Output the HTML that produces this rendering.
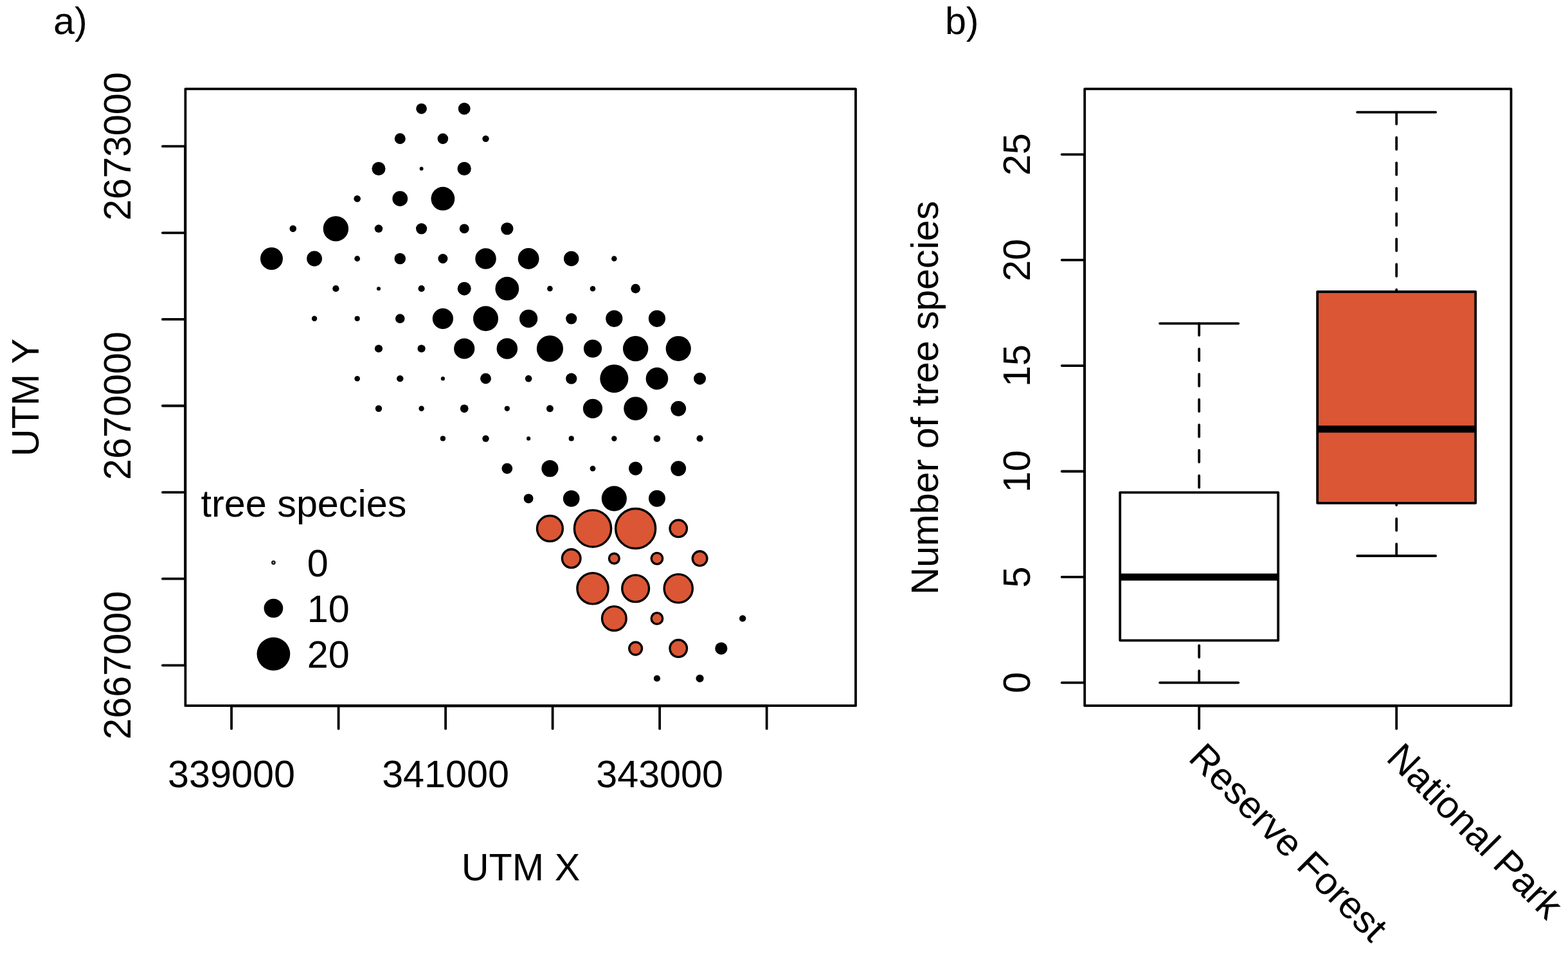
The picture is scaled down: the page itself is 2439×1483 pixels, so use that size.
<!DOCTYPE html>
<html><head><meta charset="utf-8"><title>Tree species</title>
<style>
html,body{margin:0;padding:0;background:#fff;}
body{width:2439px;height:1483px;overflow:hidden;}
svg{display:block;}
text{font-kerning:normal;}
</style></head>
<body>
<svg width="2439" height="1483" viewBox="0 0 2439 1483">
<rect x="0" y="0" width="2439" height="1483" fill="#ffffff"/>
<g fill="#000">
<circle cx="655.59" cy="169.20" r="8.30"/>
<circle cx="722.19" cy="169.20" r="9.40"/>
<circle cx="622.28" cy="215.86" r="8.50"/>
<circle cx="688.89" cy="215.86" r="8.30"/>
<circle cx="755.50" cy="215.86" r="5.20"/>
<circle cx="588.98" cy="262.52" r="10.50"/>
<circle cx="655.59" cy="262.52" r="2.90"/>
<circle cx="722.19" cy="262.52" r="10.60"/>
<circle cx="555.67" cy="309.18" r="5.30"/>
<circle cx="622.28" cy="309.18" r="11.85"/>
<circle cx="688.89" cy="309.18" r="18.40"/>
<circle cx="455.75" cy="355.84" r="5.30"/>
<circle cx="522.37" cy="355.84" r="19.70"/>
<circle cx="588.98" cy="355.84" r="6.25"/>
<circle cx="655.59" cy="355.84" r="8.60"/>
<circle cx="722.19" cy="355.84" r="7.40"/>
<circle cx="788.81" cy="355.84" r="9.70"/>
<circle cx="422.45" cy="402.50" r="17.50"/>
<circle cx="489.06" cy="402.50" r="11.90"/>
<circle cx="555.67" cy="402.50" r="4.40"/>
<circle cx="622.28" cy="402.50" r="8.75"/>
<circle cx="688.89" cy="402.50" r="7.50"/>
<circle cx="755.50" cy="402.50" r="16.25"/>
<circle cx="822.11" cy="402.50" r="16.40"/>
<circle cx="888.72" cy="402.50" r="11.75"/>
<circle cx="955.33" cy="402.50" r="4.25"/>
<circle cx="522.37" cy="449.16" r="5.10"/>
<circle cx="588.98" cy="449.16" r="3.00"/>
<circle cx="655.59" cy="449.16" r="5.10"/>
<circle cx="722.19" cy="449.16" r="10.50"/>
<circle cx="788.81" cy="449.16" r="18.40"/>
<circle cx="855.41" cy="449.16" r="4.30"/>
<circle cx="922.02" cy="449.16" r="4.25"/>
<circle cx="988.63" cy="449.16" r="7.30"/>
<circle cx="489.06" cy="495.82" r="4.20"/>
<circle cx="555.67" cy="495.82" r="4.10"/>
<circle cx="622.28" cy="495.82" r="7.30"/>
<circle cx="688.89" cy="495.82" r="16.10"/>
<circle cx="755.50" cy="495.82" r="19.50"/>
<circle cx="822.11" cy="495.82" r="14.10"/>
<circle cx="888.72" cy="495.82" r="8.60"/>
<circle cx="955.33" cy="495.82" r="13.10"/>
<circle cx="1021.94" cy="495.82" r="13.10"/>
<circle cx="588.98" cy="542.48" r="6.10"/>
<circle cx="655.59" cy="542.48" r="6.10"/>
<circle cx="722.19" cy="542.48" r="16.10"/>
<circle cx="788.81" cy="542.48" r="16.25"/>
<circle cx="855.41" cy="542.48" r="20.60"/>
<circle cx="922.02" cy="542.48" r="14.10"/>
<circle cx="988.63" cy="542.48" r="19.70"/>
<circle cx="1055.24" cy="542.48" r="19.60"/>
<circle cx="555.67" cy="589.14" r="4.25"/>
<circle cx="622.28" cy="589.14" r="5.20"/>
<circle cx="688.89" cy="589.14" r="3.10"/>
<circle cx="755.50" cy="589.14" r="8.40"/>
<circle cx="822.11" cy="589.14" r="5.30"/>
<circle cx="888.72" cy="589.14" r="8.60"/>
<circle cx="955.33" cy="589.14" r="22.00"/>
<circle cx="1021.94" cy="589.14" r="17.30"/>
<circle cx="1088.55" cy="589.14" r="9.50"/>
<circle cx="588.98" cy="635.80" r="5.20"/>
<circle cx="655.59" cy="635.80" r="4.20"/>
<circle cx="722.19" cy="635.80" r="6.40"/>
<circle cx="788.81" cy="635.80" r="4.10"/>
<circle cx="855.41" cy="635.80" r="5.50"/>
<circle cx="922.02" cy="635.80" r="15.10"/>
<circle cx="988.63" cy="635.80" r="18.40"/>
<circle cx="1055.24" cy="635.80" r="11.90"/>
<circle cx="688.89" cy="682.46" r="4.10"/>
<circle cx="755.50" cy="682.46" r="5.20"/>
<circle cx="822.11" cy="682.46" r="3.10"/>
<circle cx="888.72" cy="682.46" r="4.10"/>
<circle cx="955.33" cy="682.46" r="4.20"/>
<circle cx="1021.94" cy="682.46" r="5.25"/>
<circle cx="1088.55" cy="682.46" r="5.10"/>
<circle cx="788.81" cy="729.12" r="8.40"/>
<circle cx="855.41" cy="729.12" r="13.10"/>
<circle cx="922.02" cy="729.12" r="4.40"/>
<circle cx="988.63" cy="729.12" r="10.60"/>
<circle cx="1055.24" cy="729.12" r="11.90"/>
<circle cx="822.11" cy="775.78" r="7.40"/>
<circle cx="888.72" cy="775.78" r="12.90"/>
<circle cx="955.33" cy="775.78" r="19.60"/>
<circle cx="1021.94" cy="775.78" r="13.00"/>
<circle cx="1155.16" cy="962.42" r="5.20"/>
<circle cx="1121.86" cy="1009.08" r="9.60"/>
<circle cx="1021.94" cy="1055.74" r="5.10"/>
<circle cx="1088.55" cy="1055.74" r="6.10"/>
</g>
<g fill="#DB5634" stroke="#000" stroke-width="3.4">
<circle cx="855.41" cy="822.44" r="19.95"/>
<circle cx="922.02" cy="822.44" r="28.60"/>
<circle cx="988.63" cy="822.44" r="31.00"/>
<circle cx="1055.24" cy="822.44" r="13.20"/>
<circle cx="888.72" cy="869.10" r="14.30"/>
<circle cx="955.33" cy="869.10" r="7.90"/>
<circle cx="1021.94" cy="869.10" r="8.75"/>
<circle cx="1088.55" cy="869.10" r="11.30"/>
<circle cx="922.02" cy="915.76" r="24.10"/>
<circle cx="988.63" cy="915.76" r="20.90"/>
<circle cx="1055.24" cy="915.76" r="22.10"/>
<circle cx="955.33" cy="962.42" r="18.80"/>
<circle cx="1021.94" cy="962.42" r="8.75"/>
<circle cx="988.63" cy="1009.08" r="9.90"/>
<circle cx="1055.24" cy="1009.08" r="13.30"/>
</g>
<g stroke="#000" fill="none" stroke-linecap="round" stroke-linejoin="round">
<rect x="288.4" y="138.4" width="1042.60" height="959.80" stroke-width="3.8"/>
<line x1="360.05" y1="1098.70" x2="1192.65" y2="1098.70" stroke-width="3.8" />
<line x1="360.05" y1="1098.70" x2="360.05" y2="1133.90" stroke-width="3.8" />
<line x1="526.57" y1="1098.70" x2="526.57" y2="1133.90" stroke-width="3.8" />
<line x1="693.09" y1="1098.70" x2="693.09" y2="1133.90" stroke-width="3.8" />
<line x1="859.61" y1="1098.70" x2="859.61" y2="1133.90" stroke-width="3.8" />
<line x1="1026.13" y1="1098.70" x2="1026.13" y2="1133.90" stroke-width="3.8" />
<line x1="1192.65" y1="1098.70" x2="1192.65" y2="1133.90" stroke-width="3.8" />
<line x1="288.10" y1="227.70" x2="288.10" y2="1035.30" stroke-width="3.8" />
<line x1="288.10" y1="227.70" x2="252.90" y2="227.70" stroke-width="3.8" />
<line x1="288.10" y1="362.30" x2="252.90" y2="362.30" stroke-width="3.8" />
<line x1="288.10" y1="496.90" x2="252.90" y2="496.90" stroke-width="3.8" />
<line x1="288.10" y1="631.50" x2="252.90" y2="631.50" stroke-width="3.8" />
<line x1="288.10" y1="766.10" x2="252.90" y2="766.10" stroke-width="3.8" />
<line x1="288.10" y1="900.70" x2="252.90" y2="900.70" stroke-width="3.8" />
<line x1="288.10" y1="1035.30" x2="252.90" y2="1035.30" stroke-width="3.8" />
</g>
<g font-family="'Liberation Sans', Arial, Helvetica, sans-serif" font-size="59.3" fill="#000">
<text x="83.00" y="53.20" text-anchor="start">a)</text>
<text x="360.05" y="1225.30" text-anchor="middle">339000</text>
<text x="693.09" y="1225.30" text-anchor="middle">341000</text>
<text x="1026.13" y="1225.30" text-anchor="middle">343000</text>
<text x="203.00" y="227.70" text-anchor="middle" transform="rotate(-90 203.00 227.70)">2673000</text>
<text x="203.00" y="631.50" text-anchor="middle" transform="rotate(-90 203.00 631.50)">2670000</text>
<text x="203.00" y="1035.30" text-anchor="middle" transform="rotate(-90 203.00 1035.30)">2667000</text>
<text x="810.00" y="1369.50" text-anchor="middle">UTM X</text>
<text x="59.60" y="618.50" text-anchor="middle" transform="rotate(-90 59.60 618.50)">UTM Y</text>
<text x="312.60" y="804.20" text-anchor="start">tree species</text>
<text x="477.70" y="897.00" text-anchor="start">0</text>
<text x="477.70" y="968.20" text-anchor="start">10</text>
<text x="477.70" y="1039.30" text-anchor="start">20</text>
</g>
<circle cx="425.4" cy="875.4" r="2.4" fill="#888" stroke="#000" stroke-width="1.7"/>
<circle cx="425.4" cy="946.5" r="14.85" fill="#000"/>
<circle cx="425.4" cy="1017.6" r="25.9" fill="#000"/>
<g stroke="#000" stroke-linecap="round" stroke-linejoin="round">
<line x1="1865.20" y1="1062.30" x2="1865.20" y2="996.54" stroke-width="3.8" stroke-dasharray="18.5 20.95" fill="none"/>
<line x1="1865.20" y1="503.34" x2="1865.20" y2="766.38" stroke-width="3.8" stroke-dasharray="18.5 20.95" fill="none"/>
<line x1="1804.20" y1="1062.30" x2="1926.20" y2="1062.30" stroke-width="3.8" />
<line x1="1804.20" y1="503.34" x2="1926.20" y2="503.34" stroke-width="3.8" />
<rect x="1742.20" y="766.38" width="246.00" height="230.16" fill="#ffffff" stroke-width="3.8"/>
<line x1="1742.20" y1="897.90" x2="1988.20" y2="897.90" stroke-width="11" stroke-linecap="butt"/>
<line x1="2172.20" y1="865.02" x2="2172.20" y2="782.82" stroke-width="3.8" stroke-dasharray="18.5 20.95" fill="none"/>
<line x1="2172.20" y1="174.54" x2="2172.20" y2="454.02" stroke-width="3.8" stroke-dasharray="18.5 20.95" fill="none"/>
<line x1="2111.20" y1="865.02" x2="2233.20" y2="865.02" stroke-width="3.8" />
<line x1="2111.20" y1="174.54" x2="2233.20" y2="174.54" stroke-width="3.8" />
<rect x="2049.20" y="454.02" width="246.00" height="328.80" fill="#DB5634" stroke-width="3.8"/>
<line x1="2049.20" y1="667.74" x2="2295.20" y2="667.74" stroke-width="11" stroke-linecap="butt"/>
<rect x="1687.2" y="138.4" width="663.30" height="959.80" fill="none" stroke-width="3.8"/>
<line x1="1686.90" y1="1062.30" x2="1686.90" y2="240.30" stroke-width="3.8" />
<line x1="1686.90" y1="1062.30" x2="1651.70" y2="1062.30" stroke-width="3.8" />
<line x1="1686.90" y1="897.90" x2="1651.70" y2="897.90" stroke-width="3.8" />
<line x1="1686.90" y1="733.50" x2="1651.70" y2="733.50" stroke-width="3.8" />
<line x1="1686.90" y1="569.10" x2="1651.70" y2="569.10" stroke-width="3.8" />
<line x1="1686.90" y1="404.70" x2="1651.70" y2="404.70" stroke-width="3.8" />
<line x1="1686.90" y1="240.30" x2="1651.70" y2="240.30" stroke-width="3.8" />
<line x1="1865.20" y1="1098.70" x2="2172.20" y2="1098.70" stroke-width="3.8" />
<line x1="1865.20" y1="1098.70" x2="1865.20" y2="1133.90" stroke-width="3.8" />
<line x1="2172.20" y1="1098.70" x2="2172.20" y2="1133.90" stroke-width="3.8" />
</g>
<g font-family="'Liberation Sans', Arial, Helvetica, sans-serif" font-size="59.3" fill="#000">
<text x="1469.90" y="52.50" text-anchor="start">b)</text>
<text x="1601.70" y="1062.30" text-anchor="middle" transform="rotate(-90 1601.70 1062.30)">0</text>
<text x="1601.70" y="897.90" text-anchor="middle" transform="rotate(-90 1601.70 897.90)">5</text>
<text x="1601.70" y="733.50" text-anchor="middle" transform="rotate(-90 1601.70 733.50)">10</text>
<text x="1601.70" y="569.10" text-anchor="middle" transform="rotate(-90 1601.70 569.10)">15</text>
<text x="1601.70" y="404.70" text-anchor="middle" transform="rotate(-90 1601.70 404.70)">20</text>
<text x="1601.70" y="240.30" text-anchor="middle" transform="rotate(-90 1601.70 240.30)">25</text>
<text x="1459.00" y="619.00" text-anchor="middle" transform="rotate(-90 1459.00 619.00)">Number of tree species</text>
<text x="1846.50" y="1181.70" text-anchor="start" transform="rotate(45 1846.50 1181.70)">Reserve Forest</text>
<text x="2154.30" y="1181.70" text-anchor="start" transform="rotate(45 2154.30 1181.70)">National Park</text>
</g>
</svg>
</body></html>
